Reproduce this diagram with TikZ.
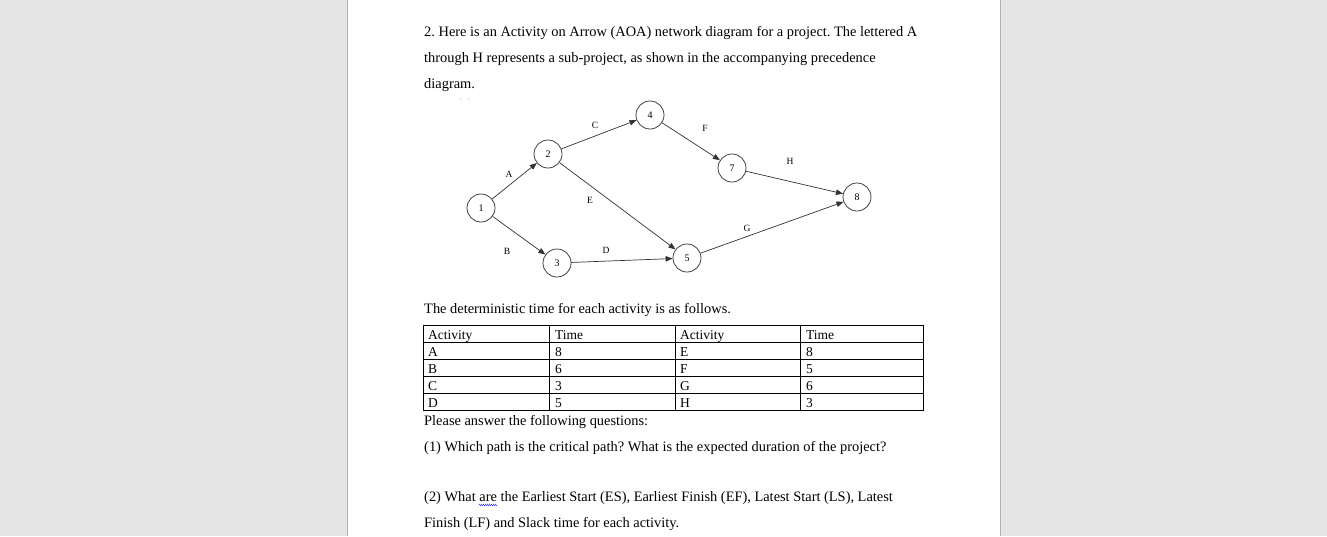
\documentclass[tikz,border=0pt]{standalone}
\usepackage{fontspec}
\setmainfont{Liberation Serif}
\usetikzlibrary{arrows.meta,decorations.pathmorphing}
\frenchspacing
\tikzset{
  evnode/.style={circle,draw=black!75,line width=0.8pt,minimum size=28pt,inner sep=0pt,font=\fontsize{10}{11}\selectfont},
  actarrow/.style={draw=black!80,line width=0.7pt,-{Triangle[length=7pt,width=5.5pt]}},
  actlabel/.style={font=\fontsize{9.5}{10}\selectfont,inner sep=0pt},
  para/.style={anchor=base west,inner sep=0pt,font=\fontsize{14.4}{16}\selectfont},
  cell/.style={anchor=base west,inner sep=0pt,font=\fontsize{13.5}{15}\selectfont},
  grid/.style={draw=black,line width=1pt}
}
\begin{document}
\begin{tikzpicture}[x=1pt,y=-1pt]
\fill[gray!20] (0,0) rectangle (1327,536);
\useasboundingbox (0,0) rectangle (1327,536);
\fill[white] (348,0) rectangle (1000,536);
\draw[gray!60,line width=1pt] (347.5,0) -- (347.5,536);
\draw[gray!60,line width=1pt] (1000.5,0) -- (1000.5,536);

% paragraph text
\node[para] (t1) at (424,36) {2. Here is an Activity on Arrow (AOA) network diagram for a project. The lettered A};
\node[para] (t2) at (424,62) {through H represents a sub-project, as shown in the accompanying precedence};
\node[para] (t3) at (424,88) {diagram.};
\fill[gray!60] (461,99) circle (0.7);
\fill[gray!60] (469,99) circle (0.7);

% network
\node[evnode] (n1) at (481,208) {1};
\node[evnode] (n2) at (548,154) {2};
\node[evnode] (n3) at (557,263) {3};
\node[evnode] (n4) at (650,115) {4};
\node[evnode] (n5) at (687,258) {5};
\node[evnode] (n7) at (732,168) {7};
\node[evnode] (n8) at (857,197) {8};

\draw[actarrow] (n1) -- (n2);
\draw[actarrow] (n1) -- (n3);
\draw[actarrow] (n2) -- (n4);
\draw[actarrow] (n2) -- (n5);
\draw[actarrow] (n3) -- (n5);
\draw[actarrow] (n4) -- (n7);
\draw[actarrow] (n7) -- (n8);
\draw[actarrow] (n5) -- (n8);

\node[actlabel] (lA) at (509,174) {A};
\node[actlabel] (lB) at (507,251) {B};
\node[actlabel] (lC) at (595,125) {C};
\node[actlabel] (lD) at (606,250) {D};
\node[actlabel] (lE) at (590,200) {E};
\node[actlabel] (lF) at (705,128) {F};
\node[actlabel] (lG) at (747,228) {G};
\node[actlabel] (lH) at (790,161) {H};

\node[para] (t4) at (424,313.5) {The deterministic time for each activity is as follows.};

% table
\draw[grid] (423,325) rectangle (923,410.5);
\foreach \yy in {342,359,376,393} \draw[grid] (423,\yy) -- (923,\yy);
\foreach \xx in {549,675,800} \draw[grid] (\xx,325) -- (\xx,410.5);
\node[cell] (h1) at (428,339) {Activity};
\node[cell] (h2) at (555,339) {Time};
\node[cell] (h3) at (680,339) {Activity};
\node[cell] (h4) at (806,339) {Time};
\node[cell] (a1) at (428,356) {A};
\node[cell] (a2) at (555,356) {8};
\node[cell] (a3) at (680,356) {E};
\node[cell] (a4) at (806,356) {8};
\node[cell] (b1) at (428,373) {B};
\node[cell] (b2) at (555,373) {6};
\node[cell] (b3) at (680,373) {F};
\node[cell] (b4) at (806,373) {5};
\node[cell] (c1) at (428,390) {C};
\node[cell] (c2) at (555,390) {3};
\node[cell] (c3) at (680,390) {G};
\node[cell] (c4) at (806,390) {6};
\node[cell] (d1) at (428,407) {D};
\node[cell] (d2) at (555,407) {5};
\node[cell] (d3) at (680,407) {H};
\node[cell] (d4) at (806,407) {3};

\node[para] (t5) at (424,425.5) {Please answer the following questions:};
\node[para] (t6) at (424,451.5) {(1) Which path is the critical path? What is the expected duration of the project?};
\node[para] (t7) at (424,501.5) {(2) What are the Earliest Start (ES), Earliest Finish (EF), Latest Start (LS), Latest};
\node[para] (t8) at (424,527) {Finish (LF) and Slack time for each activity.};
\coordinate (w1) at (479,505);
\coordinate (w2) at (497,505);
\draw[blue!70,line width=0.5pt,decorate,decoration={zigzag,amplitude=0.8pt,segment length=2pt}] (w1) -- (w2);
\end{tikzpicture}
\end{document}
